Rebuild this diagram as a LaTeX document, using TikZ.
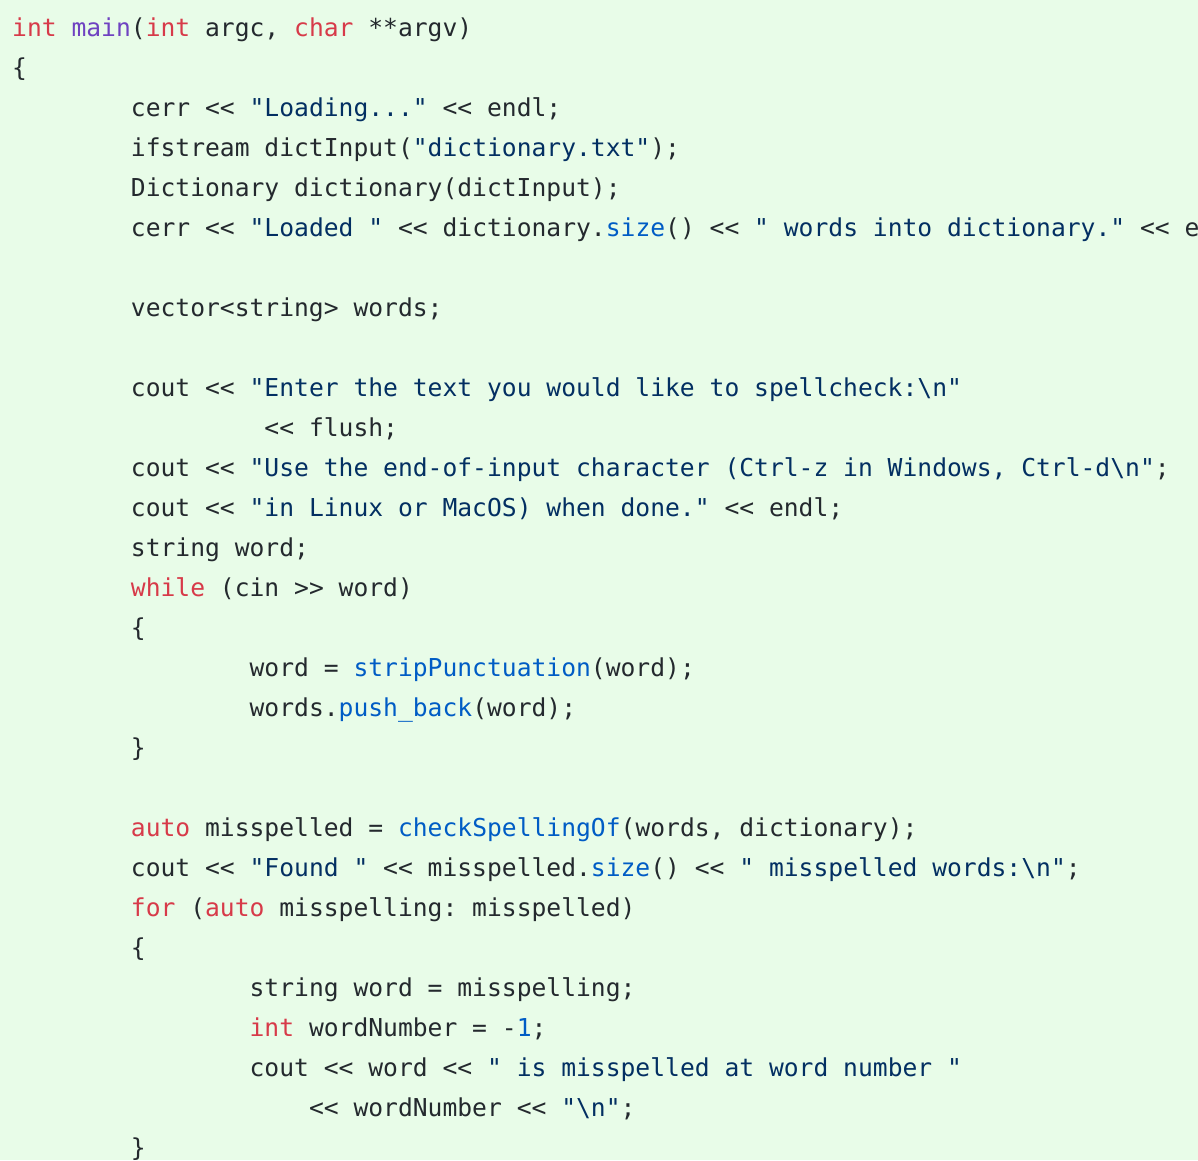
\documentclass[tikz,border=0pt]{standalone}
\usepackage{fontspec}
\newfontfamily\code{DejaVu Sans Mono}
\definecolor{bg}{HTML}{E8FCE8}
\definecolor{kwc}{HTML}{D73A49}
\definecolor{stc}{HTML}{032F62}
\definecolor{fnc}{HTML}{005CC5}
\definecolor{puc}{HTML}{6F42C1}
\definecolor{txc}{HTML}{24292E}
\newcommand\kw[1]{\textcolor{kwc}{#1}}
\newcommand\st[1]{\textcolor{stc}{#1}}
\newcommand\fn[1]{\textcolor{fnc}{#1}}
\newcommand\pu[1]{\textcolor{puc}{#1}}
\begin{document}
\begin{tikzpicture}[x=1pt,y=1pt,
  ln/.style={anchor=base west,inner sep=0pt,text=txc,font=\code\fontsize{24.65}{24.65}\selectfont\frenchspacing}]
\fill[bg] (0,0) rectangle (1198,-1160);
\useasboundingbox (0,0) rectangle (1198,-1160);
\clip (0,0) rectangle (1198,-1160);
\def\L#1#2#3{\node[ln] (l#1) at ({12+#2*14.84},{-(36+40*#1)}) {#3};}
\L{0}{0}{\kw{int} \pu{main}(\kw{int} argc, \kw{char} **argv)}
\L{1}{0}{\{}
\L{2}{8}{cerr << \st{"Loading..."} << endl;}
\L{3}{8}{ifstream dictInput(\st{"dictionary.txt"});}
\L{4}{8}{Dictionary dictionary(dictInput);}
\L{5}{8}{cerr << \st{"Loaded "} << dictionary.\fn{size}() << \st{" words into dictionary."} << endl;}
\L{7}{8}{vector<string> words;}
\L{9}{8}{cout << \st{"Enter the text you would like to spellcheck:\textbackslash n"}}
\L{10}{17}{<< flush;}
\L{11}{8}{cout << \st{"Use the end-of-input character (Ctrl-z in Windows, Ctrl-d\textbackslash n"};}
\L{12}{8}{cout << \st{"in Linux or MacOS) when done."} << endl;}
\L{13}{8}{string word;}
\L{14}{8}{\kw{while} (cin >> word)}
\L{15}{8}{\{}
\L{16}{16}{word = \fn{stripPunctuation}(word);}
\L{17}{16}{words.\fn{push\_back}(word);}
\L{18}{8}{\}}
\L{20}{8}{\kw{auto} misspelled = \fn{checkSpellingOf}(words, dictionary);}
\L{21}{8}{cout << \st{"Found "} << misspelled.\fn{size}() << \st{" misspelled words:\textbackslash n"};}
\L{22}{8}{\kw{for} (\kw{auto} misspelling: misspelled)}
\L{23}{8}{\{}
\L{24}{16}{string word = misspelling;}
\L{25}{16}{\kw{int} wordNumber = -\fn{1};}
\L{26}{16}{cout << word << \st{" is misspelled at word number "}}
\L{27}{20}{<< wordNumber << \st{"\textbackslash n"};}
\L{28}{8}{\}}
\end{tikzpicture}
\end{document}
